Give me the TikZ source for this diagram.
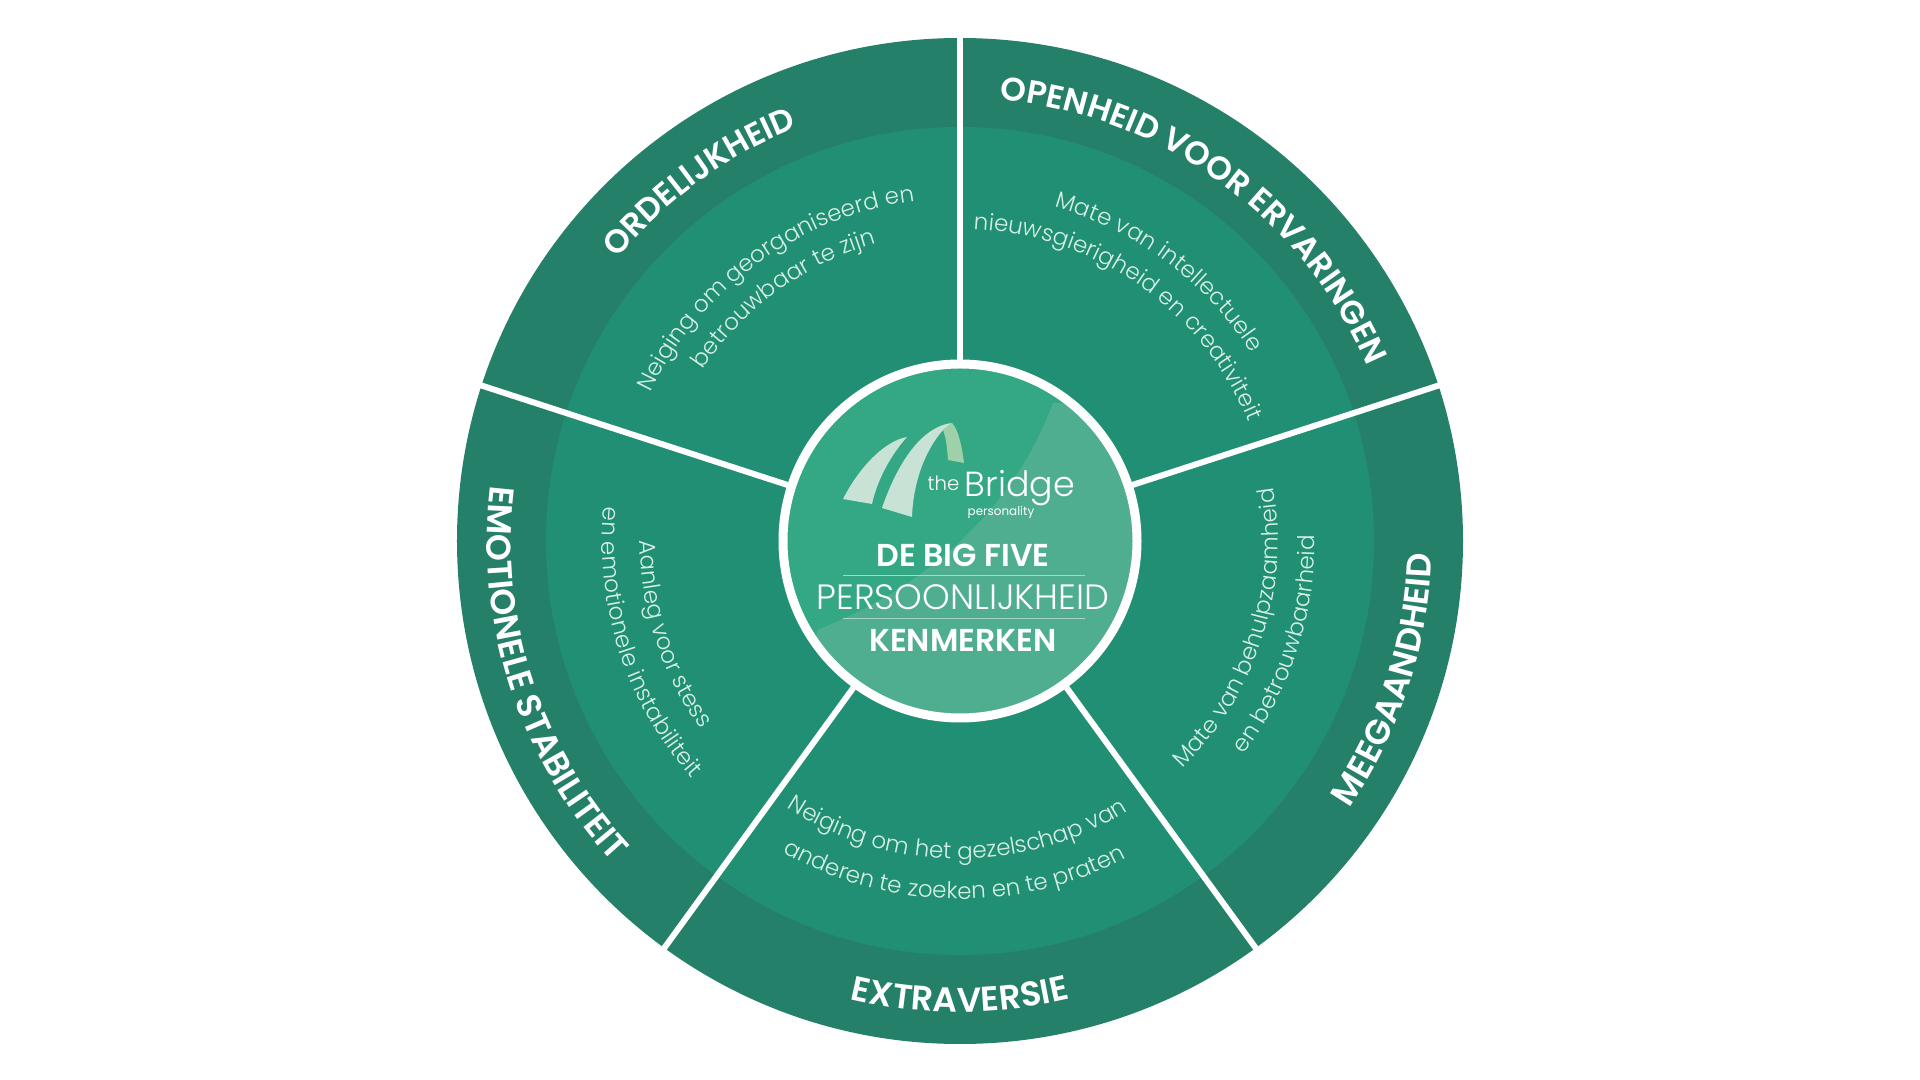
\documentclass[tikz,border=0pt]{standalone}
\usepackage{fontspec}
\usetikzlibrary{decorations.text}
\setmainfont{Poppins}
\newfontfamily\lightfam{Poppins Light}
\newfontfamily\semifam{Poppins SemiBold}
\definecolor{ringdark}{RGB}{37,128,105}
\definecolor{ringmid}{RGB}{33,143,115}
\definecolor{hubbase}{RGB}{52,168,133}
\definecolor{hubshade}{RGB}{80,174,144}
\definecolor{paletext}{RGB}{214,240,230}
\definecolor{hubrule}{RGB}{165,216,197}
\definecolor{bandpale}{RGB}{200,226,214}
\definecolor{bandgreen}{RGB}{158,208,170}
\newcommand{\ringtitle}{\color{white}\semifam\fontsize{9.3}{11}\selectfont}
\newcommand{\ringtitlewide}{\color{white}\semifam\fontsize{9.8}{12}\selectfont}
\newcommand{\ringbody}{\color{paletext}\lightfam\fontsize{6.55}{8}\selectfont}
\tikzset{
  curved/.style={decorate, decoration={text along path, text align=center, text={#1}}},
  divider/.style={white, line width=0.06cm},
  hubtext/.style={text=white, inner sep=0pt, anchor=center}
}
\begin{document}
\begin{tikzpicture}
\useasboundingbox (-9.6, -5.39) rectangle (9.6, 5.41);
\fill[ringdark] (0, 0) circle (5.03);
\fill[ringmid] (0, 0) circle (4.14);

\foreach \ang in {90, 18, 162, 234, 306} {
  \draw[divider] (\ang:1.75) -- (\ang:5.1);
}

\fill[hubbase] (0, 0) circle (1.77);
\begin{scope}
\clip (0, 0) circle (1.77);
\fill[hubshade] (0.93, 1.38) .. controls (0.55, 0.35) and (-0.3, -0.45) .. (-1.43, -0.89) -- (-1.5, -2) -- (2, -2) -- (2, 1.38) -- cycle;
\end{scope}
\draw[white, line width=0.09cm] (0, 0) circle (1.77);

\fill[bandpale] (-1.17, 0.42) .. controls (-1.0, 0.75) and (-0.75, 1.0) .. (-0.53, 1.04) .. controls (-0.7, 0.85) and (-0.83, 0.6) .. (-0.88, 0.37) -- cycle;
\fill[bandpale] (-0.78, 0.33) .. controls (-0.6, 0.85) and (-0.35, 1.15) .. (-0.08, 1.18) -- (-0.17, 1.11) .. controls (-0.37, 0.88) and (-0.47, 0.55) .. (-0.48, 0.24) -- cycle;
\fill[bandgreen] (-0.08, 1.18) .. controls (-0.02, 1.12) and (0.02, 0.95) .. (0.04, 0.78) -- (-0.12, 0.81) .. controls (-0.13, 0.95) and (-0.14, 1.03) .. (-0.17, 1.11) -- cycle;

\node[hubtext, anchor=base west] (logothe) at (-0.33, 0.5) {\lightfam\fontsize{5.6}{7}\selectfont the};
\node[hubtext, anchor=base west] (logobridge) at (0.04, 0.44) {\lightfam\fontsize{9.9}{12}\selectfont Bridge};
\node[hubtext] (logosub) at (0.41, 0.28) {\fontsize{3.4}{4}\selectfont personality};

\node[hubtext] (bigfive) at (0.03, -0.14) {\semifam\fontsize{9}{11}\selectfont DE BIG FIVE};
\node[hubtext] (persoon) at (0.03, -0.56) {\lightfam\fontsize{10}{12}\selectfont PERSOONLIJKHEID};
\node[hubtext] (kenmerk) at (0.03, -0.99) {\semifam\fontsize{9}{11}\selectfont KENMERKEN};
\draw[hubrule, line width=0.01cm] (-1.17, -0.35) -- (1.25, -0.35);
\draw[hubrule, line width=0.01cm] (-1.17, -0.78) -- (1.25, -0.78);

\path[curved={|\ringtitle|ORDELIJKHEID}] (165:4.44) arc[start angle=165, end angle=87, radius=4.44];
\path[curved={|\ringtitle|OPENHEID VOOR ERVARINGEN}] (100:4.43) arc[start angle=100, end angle=8, radius=4.43];
\path[curved={|\ringtitlewide|MEEGAANDHEID}] (-60:4.72) arc[start angle=-60, end angle=24, radius=4.72];
\path[curved={|\ringtitlewide|EXTRAVERSIE}] (230:4.71) arc[start angle=230, end angle=310, radius=4.71];
\path[curved={|\ringtitlewide|EMOTIONELE STABILITEIT}] (150:4.73) arc[start angle=150, end angle=246, radius=4.73];

\path[curved={|\ringbody|Neiging om georganiseerd en}] (165:3.43) arc[start angle=165, end angle=87, radius=3.43];
\path[curved={|\ringbody|betrouwbaar te zijn}] (165:3.09) arc[start angle=165, end angle=87, radius=3.09];
\path[curved={|\ringbody|Mate van intellectuele}] (90:3.47) arc[start angle=90, end angle=17, radius=3.47];
\path[curved={|\ringbody|nieuwsgierigheid en creativiteit}] (100:3.12) arc[start angle=100, end angle=10, radius=3.12];
\path[curved={|\ringbody|Mate van behulpzaamheid}] (-60:3.18) arc[start angle=-60, end angle=24, radius=3.18];
\path[curved={|\ringbody|en betrouwbaarheid}] (-60:3.55) arc[start angle=-60, end angle=24, radius=3.55];
\path[curved={|\ringbody|Neiging om het gezelschap van}] (229.5:3.18) arc[start angle=229.5, end angle=309.5, radius=3.18];
\path[curved={|\ringbody|anderen te zoeken en te praten}] (229:3.58) arc[start angle=229, end angle=309, radius=3.58];
\path[curved={|\ringbody|Aanleg voor stess}] (160:3.2) arc[start angle=160, end angle=236, radius=3.2];
\path[curved={|\ringbody|en emotionele instabiliteit}] (160:3.58) arc[start angle=160, end angle=236, radius=3.58];
\end{tikzpicture}
\end{document}
